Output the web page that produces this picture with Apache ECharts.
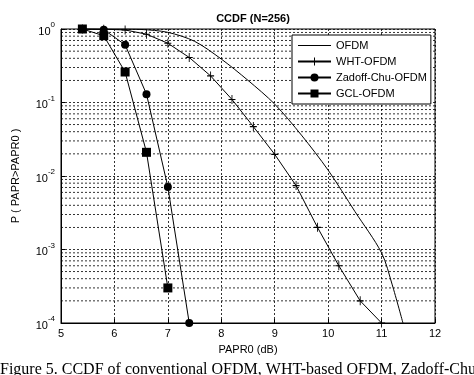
<!DOCTYPE html>
<html><head><meta charset="utf-8">
<script src="https://cdn.jsdelivr.net/npm/echarts@6/dist/echarts.min.js"></script>
<style>html,body{margin:0;padding:0;background:#fff}#c{width:474px;height:375px}</style>
</head><body><div id="c"></div>
<script>
const seriesNames = ['OFDM', 'WHT-OFDM', 'Zadoff-Chu-OFDM', 'GCL-OFDM'];
const xTicks = [5, 6, 7, 8, 9, 10, 11, 12];
const ofdm = [[5.4,1],[6.0,0.998],[6.5,0.985],[7.0,0.9],[7.5,0.68],[8.0,0.39],[8.5,0.2],[9.0,0.095],[9.5,0.036],[10.0,0.012],[10.5,0.0033],[11.0,0.0009],[11.2,0.00033],[11.4,0.0001]];
const wht = [[5.4,1],[5.8,0.995],[6.2,0.97],[6.6,0.85],[7.0,0.64],[7.4,0.41],[7.8,0.23],[8.2,0.11],[8.6,0.047],[9.0,0.0197],[9.4,0.0074],[9.8,0.002],[10.2,0.0006],[10.6,0.0002],[11.0,0.0001]];
const zc = [[5.4,1],[5.8,0.98],[6.2,0.61],[6.6,0.13],[7.0,0.0071],[7.4,0.0001]];
const gcl = [[5.4,1],[5.8,0.81],[6.2,0.26],[6.6,0.021],[7.0,0.0003]];
const decades = [-4, -3, -2, -1];
const minorMults = [2, 3, 4, 5, 6, 7, 8, 9];

const minorVals = [];
decades.forEach(d => minorMults.forEach(m => minorVals.push([m * Math.pow(10, d)])));

const gridStyle = { color: '#000', type: [2, 2], width: 0.8 };
const base = { type: 'line', color: '#000', lineStyle: { color: '#000', width: 1 }, itemStyle: { color: '#000' }, animation: false, z: 5 };
const chart = echarts.init(document.getElementById('c'), null, { renderer: 'canvas' });
chart.setOption({
  animation: false,
  backgroundColor: '#fff',
  textStyle: { fontFamily: 'Liberation Sans, Arial, sans-serif', color: '#000' },
  title: { text: 'CCDF (N=256)', left: 248, top: 8, textAlign: 'center',
    textStyle: { fontSize: 11, fontWeight: 'bold', color: '#000', fontFamily: 'Liberation Sans, Arial, sans-serif' } },
  grid: { left: 61, right: 39, top: 29, bottom: 52, show: true, borderColor: '#000', borderWidth: 1, backgroundColor: 'transparent' },
  legend: {
    data: [{ name: seriesNames[0], icon: 'path://M0,0h0.01v0.01h-0.01z M0,4.5h33v1h-33z M0,9.99h0.01v0.01h-0.01z' }, seriesNames[1], seriesNames[2], seriesNames[3]],
    orient: 'vertical', left: 292, top: 35, z: 10,
    backgroundColor: '#fff', borderColor: '#000', borderWidth: 1, padding: [5, 4, 5, 5],
    itemGap: 5, itemWidth: 33, itemHeight: 10,
    textStyle: { fontSize: 11, color: '#000', fontFamily: 'Liberation Sans, Arial, sans-serif' }
  },
  xAxis: {
    type: 'value', min: xTicks[0], max: xTicks[xTicks.length - 1], interval: 1,
    name: 'PAPR0 (dB)', nameLocation: 'middle', nameGap: 21,
    nameTextStyle: { fontSize: 11, color: '#000' },
    axisLine: { show: true, lineStyle: { color: '#000' } },
    axisTick: { inside: true, length: 4, lineStyle: { color: '#000' } },
    axisLabel: { fontSize: 11, color: '#000', margin: 5 },
    splitLine: { show: true, lineStyle: gridStyle }
  },
  yAxis: {
    type: 'log', logBase: 10, min: 1e-4, max: 1,
    name: 'P ( PAPR>PAPR0 )', nameLocation: 'middle', nameGap: 40,
    nameTextStyle: { fontSize: 11, color: '#000' },
    axisLine: { show: true, lineStyle: { color: '#000' } },
    axisTick: { inside: true, length: 4, lineStyle: { color: '#000' } },
    axisLabel: {
      margin: 6, color: '#000',
      formatter: v => '{b|10}{s|' + Math.round(Math.log10(v)) + '}',
      rich: { b: { fontSize: 11, color: '#000', lineHeight: 16, verticalAlign: 'bottom' }, s: { fontSize: 8, color: '#000', verticalAlign: 'top', lineHeight: 16 } }
    },
    splitLine: { show: true, lineStyle: gridStyle }
  },
  series: [
    { type: 'custom', name: 'minor', silent: true, z: 1, data: minorVals,
      encode: { y: 0 },
      renderItem: function (params, api) {
        const y = api.value(0);
        const p1 = api.coord([xTicks[0], y]);
        const p2 = api.coord([xTicks[xTicks.length - 1], y]);
        return { type: 'line', shape: { x1: p1[0], y1: p1[1], x2: p2[0], y2: p2[1] },
          style: { stroke: '#000', lineWidth: 0.8, lineDash: [2, 2] } };
      } },
    Object.assign({}, base, { name: 'OFDM', data: ofdm, smooth: 0.3, showSymbol: false, symbol: 'none' }),
    Object.assign({}, base, { name: 'WHT-OFDM', data: wht, symbol: 'path://M3.5,0h1v3.5h3.5v1h-3.5v3.5h-1v-3.5h-3.5v-1h3.5z', symbolSize: [7, 9], showSymbol: true }),
    Object.assign({}, base, { name: 'Zadoff-Chu-OFDM', data: zc, symbol: 'circle', symbolSize: 8, showSymbol: true }),
    Object.assign({}, base, { name: 'GCL-OFDM', data: gcl, symbol: 'rect', symbolSize: 9, showSymbol: true })
  ],
  graphic: [{ type: 'text', left: 0, top: 362, style: { text: 'Figure 5. CCDF of conventional OFDM, WHT-based OFDM, Zadoff-Chu', font: '16px "Liberation Serif", "Times New Roman", serif', fill: '#000' } }]
});
</script></body></html>
